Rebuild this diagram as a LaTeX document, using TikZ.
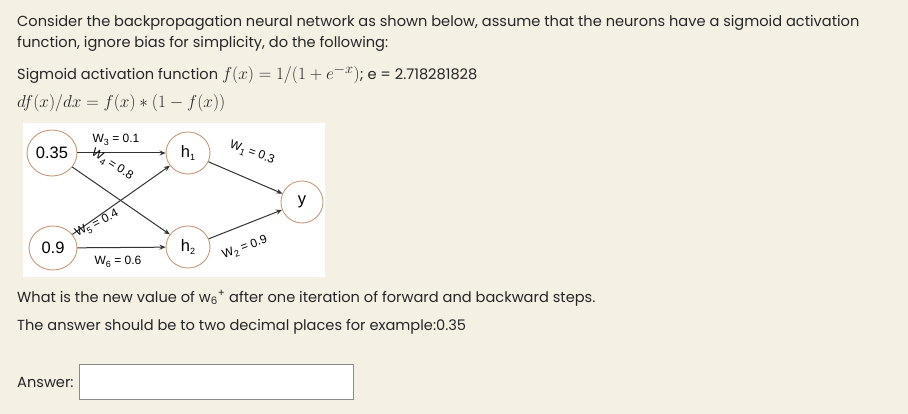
\documentclass[tikz,border=0pt]{standalone}
\usepackage{fontspec}
\usepackage{amsmath}
\setmainfont{Poppins}
\newfontfamily\arialf{Liberation Sans}
\usetikzlibrary{arrows.meta,shapes.geometric}
\definecolor{bg}{HTML}{F4F1E4}
\definecolor{ring}{HTML}{C49A7C}
\definecolor{boxline}{HTML}{8A8A8A}
\tikzset{
  txt/.style={anchor=base west,inner sep=0pt,font=\fontsize{14.6}{16}\selectfont,text=black!85},
  neuron/.style={draw=ring,line width=0.9pt,ellipse,minimum width=44pt,minimum height=42pt,inner sep=0pt,font=\arialf\fontsize{16.5}{18}\selectfont},
  conn/.style={draw=black!80,line width=1pt,-{Stealth[length=6pt,width=5pt]}},
  wl/.style={font=\arialf\fontsize{12}{14}\selectfont,inner sep=0pt}
}
\newcommand{\wsub}[1]{\raisebox{-3pt}{\fontsize{9}{10}\selectfont #1}}
\begin{document}
\begin{tikzpicture}[x=1pt,y=-1pt]
\fill[bg] (0,0) rectangle (908,414);
\useasboundingbox (0,0) rectangle (908,414);
\node[txt] (l1) at (17,27) {Consider the backpropagation neural network as shown below, assume that the neurons have a sigmoid activation};
\node[txt] (l2) at (17,48) {function, ignore bias for simplicity, do the following:};
\node[txt] (l3) at (17,80) {Sigmoid activation function {\fontsize{19}{20}\selectfont$f(x)=1/(1+e^{-x})$}; e = 2.718281828};
\node[txt] (l4) at (17,108) {\fontsize{19}{20}\selectfont$df(x)/dx=f(x)*(1-f(x))$};
\fill[white] (23,123) rectangle (325,277);
\node[neuron,minimum width=50pt,minimum height=46pt] (a) at (52,153) {0.35};
\node[neuron,minimum width=48pt,minimum height=44pt] (b) at (53,248) {0.9};
\node[neuron] (h1) at (188,153) {h\wsub{1}};
\node[neuron] (h2) at (188,247) {h\wsub{2}};
\node[neuron,minimum width=42pt] (y) at (302,202) {y};
\draw[conn] (a) -- (h1);
\draw[conn] (a) -- (h2);
\draw[conn] (b) -- (h1);
\draw[conn] (b) -- (h2);
\draw[conn] (h1) -- (y);
\draw[conn] (h2) -- (y);
\node[wl] (w3) at (116,140) {W\wsub{3} = 0.1};
\node[wl,rotate=-32] (w4) at (112,165) {W\wsub{4} = 0.8};
\node[wl,rotate=27] (w5) at (97,224) {W\wsub{5} = 0.4};
\node[wl] (w6) at (118,262) {W\wsub{6} = 0.6};
\node[wl,rotate=-20] (w1) at (252,153) {W\wsub{1} = 0.3};
\node[wl,rotate=20] (w2) at (245,248) {W\wsub{2} = 0.9};
\node[txt] (q1) at (17,302) {What is the new value of w\textsubscript{6}\textsuperscript{+} after one iteration of forward and backward steps.};
\node[txt] (q2) at (17,330) {The answer should be to two decimal places for example:0.35};
\node[txt] (q3) at (17,387) {Answer:};
\draw[boxline,fill=white,line width=0.7pt] (79,364) rectangle (353,399);
\end{tikzpicture}
\end{document}
